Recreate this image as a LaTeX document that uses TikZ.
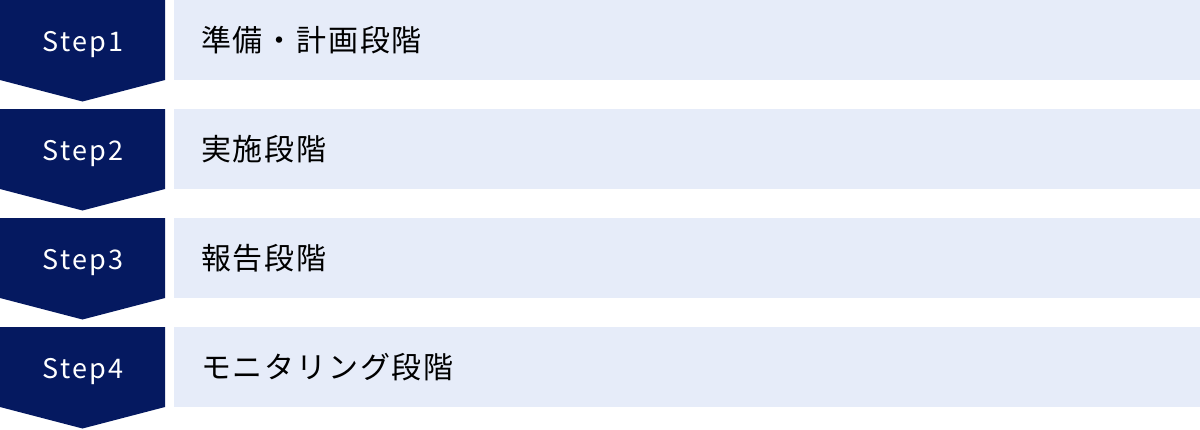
\documentclass[tikz,border=0pt]{standalone}
\usepackage{fontspec}
\setmainfont{Noto Sans CJK JP}
\definecolor{navy}{RGB}{5,25,96}
\definecolor{lightbg}{RGB}{230,236,249}
\begin{document}
\begin{tikzpicture}[x=1pt,y=-1pt,
  stepshape/.style={fill=navy,draw=none},
  barshape/.style={fill=lightbg,draw=none},
  steplabel/.style={text=white,font=\fontsize{27}{30}\selectfont\addfontfeatures{LetterSpace=8},anchor=base,inner sep=0pt},
  barlabel/.style={text=black,font=\fontsize{30}{33}\selectfont\addfontfeatures{LetterSpace=6},anchor=base west,inner sep=0pt}]
\useasboundingbox (0,0) rectangle (1200,429);
\foreach \i/\t [count=\n from 0] in {1/準備・計画段階,2/実施段階,3/報告段階,4/モニタリング段階}{
  \pgfmathsetmacro{\yy}{\n*109}
  \fill[stepshape] (0,\yy) -- (165,\yy) -- (165,\yy+80) -- (82.5,\yy+101.5) -- (0,\yy+80) -- cycle;
  \fill[barshape] (174,\yy) rectangle (1200,\yy+80);
  \node[steplabel] (s\i) at (83,\yy+51) {Step\i};
  \node[barlabel] (b\i) at (201,\yy+51) {\t};
}
\end{tikzpicture}
\end{document}
